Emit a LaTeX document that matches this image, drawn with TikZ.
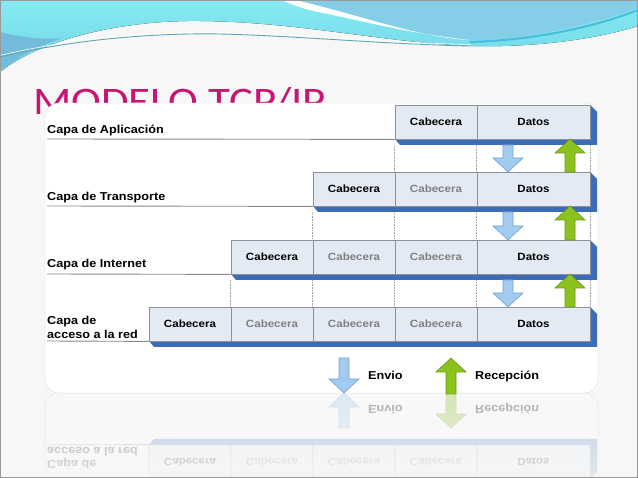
\documentclass[tikz,border=0pt]{standalone}
\usepackage{fontspec}
\usetikzlibrary{fadings}
\newfontfamily\diagfont[FakeStretch=1.1]{Liberation Sans}
\newfontfamily\titlefont[FakeStretch=1.15]{Carlito}

\definecolor{slidebg}{HTML}{F7F7F7}
\definecolor{framegray}{HTML}{9A9A9A}
\definecolor{wavecyan}{HTML}{86EBF3}
\definecolor{wavecyandark}{HTML}{70D3E6}
\definecolor{waveleft}{HTML}{72BBDA}
\definecolor{waveblue}{HTML}{86CEE8}
\definecolor{wavestreak}{HTML}{45BFDA}
\definecolor{waveline}{HTML}{5FA6B6}
\definecolor{titlemagenta}{HTML}{C8156F}
\definecolor{panelline}{HTML}{DCDCDC}
\definecolor{boxfill}{HTML}{E4EAF4}
\definecolor{boxline}{HTML}{8C9099}
\definecolor{hdrgray}{HTML}{808080}
\definecolor{linegray}{HTML}{8A8A8A}
\definecolor{dotgray}{HTML}{A0A0A0}
\definecolor{stripblue}{HTML}{3C6BB8}
\definecolor{envioblue}{HTML}{A3CBEF}
\definecolor{envioedge}{HTML}{6FA3D6}
\definecolor{recgreen}{HTML}{8CC21E}
\definecolor{recedge}{HTML}{6B9A14}

\tikzfading[name=reflfade, top color=transparent!100, bottom color=transparent!35]

\tikzset{
  layerbox/.style={rectangle, draw=boxline, line width=0.8pt, fill=boxfill, minimum width=82pt, minimum height=34pt, inner sep=0pt, font={\diagfont\fontsize{10.5}{12}\selectfont\bfseries}},
  databox/.style={layerbox, minimum width=113pt},
  oldhdr/.style={text=hdrgray},
  layerlabel/.style={anchor=base west, inner sep=0pt, font={\diagfont\fontsize{11.5}{13}\selectfont\bfseries}},
  legendtext/.style={layerlabel},
  layerline/.style={draw=linegray, line width=0.9pt},
  gapline/.style={draw=dotgray, densely dotted, line width=0.6pt},
  stripfill/.style={fill=stripblue},
  envioarr/.style={fill=envioblue, draw=envioedge, line width=0.6pt},
  recarr/.style={fill=recgreen, draw=recedge, line width=0.6pt},
}

% x, top, tip
\newcommand{\envioarrow}[3]{%
  \filldraw[envioarr] ({#1-5},#2) -- ({#1+5},#2) -- ({#1+5},{#3-14}) -- ({#1+15},{#3-14}) -- (#1,#3) -- ({#1-15},{#3-14}) -- ({#1-5},{#3-14}) -- cycle;}
% x, bottom, tip
\newcommand{\recarrow}[3]{%
  \filldraw[recarr] ({#1-5},#2) -- ({#1+5},#2) -- ({#1+5},{#3+14}) -- ({#1+15},{#3+14}) -- (#1,#3) -- ({#1-15},{#3+14}) -- ({#1-5},{#3+14}) -- cycle;}
% left x, top y
\newcommand{\layerstrip}[2]{%
  \fill[stripfill] (#1,{#2+34}) -- (590,{#2+34}) -- (590,#2) -- (597,{#2+7}) -- (597,{#2+40}) -- ({#1+5},{#2+40}) -- cycle;}

% lowest layer and legend
\newcommand{\lowerlayer}{%
  \layerstrip{149}{307}
  \node[layerbox] (r1) at (190,324) {Cabecera};
  \node[layerbox, oldhdr] (r2) at (272,324) {Cabecera};
  \node[layerbox, oldhdr] (r3) at (354,324) {Cabecera};
  \node[layerbox, oldhdr] (r4) at (436,324) {Cabecera};
  \node[databox] (r5) at (533.5,324) {Datos};
  \node[layerlabel] (lr) at (47,325) {Capa de};
  \node[layerlabel] (lr2) at (47,338.5) {acceso a la red};
  \coordinate (lr0) at (47,341);
  \draw[layerline] (lr0) -- (r1.south west);
  \envioarrow{344}{358}{393}
  \node[legendtext] (env) at (368,380) {Envio};
  \recarrow{451}{394}{358}
  \node[legendtext] (rec) at (475,380) {Recepción};
}

\begin{document}
\begin{tikzpicture}[x=1pt, y=-1pt]
        \useasboundingbox (0,0) rectangle (638,478);
        \fill[slidebg] (0,0) rectangle (638,478);

        % Waves
        \fill[top color=wavecyan, bottom color=wavecyandark] (0,0) -- (638,0) -- (638,26) .. controls (610,35) and (550,48) .. (470,46) .. controls (380,42) and (300,22) .. (200,21) .. controls (120,20) and (40,40) .. (0,72) -- cycle;
        \fill[waveleft] (0,32) .. controls (25,38) and (45,40) .. (62,38) .. controls (35,48) and (15,58) .. (0,72) -- cycle;
        \fill[waveblue] (295,0) -- (638,0) -- (638,8) .. controls (600,22) and (530,40) .. (470,40) .. controls (420,38) and (360,15) .. (295,0) -- cycle;
        \fill[white] (282,0) -- (295,0) .. controls (360,15) and (420,38) .. (470,40) .. controls (410,34) and (350,18) .. (318,12) .. controls (300,8) and (290,4) .. (282,0) -- cycle;
        \draw[wavestreak, line width=2pt] (470,42) .. controls (540,40) and (600,25) .. (638,10);
        \draw[white, line width=0.6pt] (0,55.5) .. controls (80,36.5) and (160,31.5) .. (220,32.5) .. controls (300,34.5) and (380,42.5) .. (470,44.5);
        \draw[waveline, line width=0.9pt] (0,57) .. controls (80,38) and (160,33) .. (220,34) .. controls (300,36) and (380,44) .. (470,46);

        % Title and panel
        \node[anchor=base west, inner sep=0pt, text=titlemagenta, font={\titlefont\fontsize{39}{39}\selectfont}] (title) at (33,115) {MODELO TCP/IP};
        \filldraw[fill=white, draw=panelline, rounded corners=14pt] (45,103) rectangle (598,393);

        % Strips
        \layerstrip{395}{105}
        \layerstrip{313}{172}
        \layerstrip{231}{240}

        % Nodes
        \node[layerbox] (a1) at (436,122) {Cabecera};
        \node[databox] (a2) at (533.5,122) {Datos};
        \node[layerbox] (t1) at (354,189) {Cabecera};
        \node[layerbox, oldhdr] (t2) at (436,189) {Cabecera};
        \node[databox] (t3) at (533.5,189) {Datos};
        \node[layerbox] (i1) at (272,257) {Cabecera};
        \node[layerbox, oldhdr] (i2) at (354,257) {Cabecera};
        \node[layerbox, oldhdr] (i3) at (436,257) {Cabecera};
        \node[databox] (i4) at (533.5,257) {Datos};

        \node[layerlabel] (la) at (47,133.5) {Capa de Aplicación};
        \node[layerlabel] (lt) at (47,201) {Capa de Transporte};
        \node[layerlabel] (li) at (47,268) {Capa de Internet};
        \coordinate (la0) at (47,139);
        \coordinate (lt0) at (47,206);
        \coordinate (li0) at (47,274);
        \draw[layerline] (la0) -- (a1.south west);
        \draw[layerline] (lt0) -- (t1.south west);
        \draw[layerline] (li0) -- (i1.south west);

        % Arrows
        \envioarrow{508}{145}{172}
        \envioarrow{508}{212}{240}
        \envioarrow{508}{280}{307}
        \recarrow{570}{172}{139}
        \recarrow{570}{240}{206}
        \recarrow{570}{307}{274}

        \lowerlayer

        % Edges
        \draw[gapline] (a1.south west) ++(0,6) -- (t2.north west);
        \draw[gapline] (a2.south west) ++(0,6) -- (t3.north west);
        \draw[gapline] (a2.south east) ++(0,6) -- (t3.north east);
        \draw[gapline] (t1.south west) ++(0,6) -- (i2.north west);
        \draw[gapline] (t2.south west) ++(0,6) -- (i3.north west);
        \draw[gapline] (t3.south west) ++(0,6) -- (i4.north west);
        \draw[gapline] (t3.south east) ++(0,6) -- (i4.north east);
        \draw[gapline] (i1.south west) ++(0,6) -- (r2.north west);
        \draw[gapline] (i2.south west) ++(0,6) -- (r3.north west);
        \draw[gapline] (i3.south west) ++(0,6) -- (r4.north west);
        \draw[gapline] (i4.south west) ++(0,6) -- (r5.north west);
        \draw[gapline] (i4.south east) ++(0,6) -- (r5.north east);

        % Reflection
        \begin{scope}
          \clip (0,394) rectangle (638,478);
          \begin{scope}[shift={(0,786)}, yscale=-1, transform shape, name prefix=m-, opacity=0.3, transparency group]
            \filldraw[fill=white, draw=panelline, rounded corners=14pt] (45,103) rectangle (598,393);
            \lowerlayer
          \end{scope}
          \fill[slidebg, path fading=reflfade] (0,394) rectangle (638,478);
        \end{scope}

        \draw[framegray] (0.5,0.5) rectangle (637.5,477.5);
      \end{tikzpicture}
\end{document}
